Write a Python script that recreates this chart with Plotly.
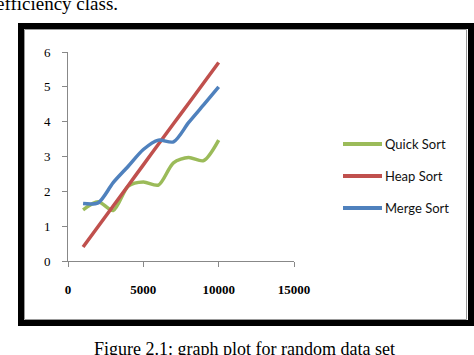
import plotly.graph_objects as go

x_vals = [1000, 2000, 3000, 4000, 5000, 6000, 7000, 8000, 9000, 10000]
quick_sort = [1.47, 1.70, 1.45, 2.15, 2.27, 2.18, 2.82, 2.97, 2.88, 3.47]
heap_sort = [0.40, 0.99, 1.58, 2.17, 2.76, 3.35, 3.94, 4.52, 5.11, 5.70]
merge_sort = [1.65, 1.67, 2.25, 2.72, 3.20, 3.47, 3.42, 3.97, 4.48, 5.00]
series_names = ["Quick Sort", "Heap Sort", "Merge Sort"]
series_colors = ["#9BBB59", "#C0504D", "#4F81BD"]
x_ticks = [0, 5000, 10000, 15000]
y_ticks = [0, 1, 2, 3, 4, 5, 6]

W, H = 474, 355
ML, MR, MT, MB = 68, 180, 52, 94
PW, PH = W - ML - MR, H - MT - MB


def px(xp):
    return (xp - ML) / PW


def py(yp):
    return (H - MB - yp) / PH


fig = go.Figure()
for name, vals, col in zip(series_names, [quick_sort, heap_sort, merge_sort], series_colors):
    fig.add_trace(go.Scatter(
        x=x_vals, y=vals, name=name, mode="lines",
        line=dict(color=col, width=3.5, shape="spline", smoothing=0.8),
        showlegend=False,
    ))

# manual legend (line sample + label)
legend_y = [144, 176, 208]
for name, col, ly in zip(series_names, series_colors, legend_y):
    fig.add_shape(type="line", xref="paper", yref="paper",
                  x0=px(343), x1=px(382), y0=py(ly), y1=py(ly),
                  line=dict(color=col, width=4))
    fig.add_annotation(text=name, xref="paper", yref="paper",
                       x=px(383), y=py(ly), xanchor="left", yanchor="middle",
                       showarrow=False,
                       font=dict(family="Lato, Open Sans, sans-serif", size=13, color="#111"))

fig.update_layout(
    width=W, height=H,
    margin=dict(l=ML, r=MR, t=MT, b=MB, pad=0),
    paper_bgcolor="white", plot_bgcolor="white",
    showlegend=False,
    xaxis=dict(
        range=[0, 15000], tickvals=x_ticks, ticktext=[str(v) for v in x_ticks],
        showgrid=False, zeroline=False, showline=True, linecolor="#888", linewidth=1,
        ticks="outside", ticklen=5, tickcolor="#888",
        ticklabelstandoff=11,
        tickfont=dict(family="Liberation Serif, serif", size=13, color="black", weight="bold"),
    ),
    yaxis=dict(
        range=[0, 6], tickvals=y_ticks,
        showgrid=False, zeroline=False, showline=True, linecolor="#888", linewidth=1,
        ticks="outside", ticklen=5, tickcolor="#888",
        ticklabelstandoff=9,
        tickfont=dict(family="Liberation Serif, serif", size=13, color="black"),
    ),
)

# black outer frame
fig.add_shape(type="rect", xref="paper", yref="paper",
              x0=px(21), x1=px(471), y0=py(323), y1=py(26),
              line=dict(color="black", width=6), fillcolor="rgba(0,0,0,0)", layer="below")
# thin grey inner border
fig.add_shape(type="rect", xref="paper", yref="paper",
              x0=px(24.5), x1=px(466.5), y0=py(319.5), y1=py(29.5),
              line=dict(color="#999", width=1), fillcolor="rgba(0,0,0,0)", layer="below")

fig.add_annotation(text="efficiency class.", xref="paper", yref="paper",
                   x=px(-6), y=py(16), xanchor="left", yanchor="bottom", showarrow=False,
                   font=dict(family="Liberation Serif, serif", size=19, color="black"))
fig.add_annotation(text="Figure 2.1: graph plot for random data set", xref="paper", yref="paper",
                   x=px(244), y=py(337), xanchor="center", yanchor="top", showarrow=False,
                   font=dict(family="Liberation Serif, serif", size=18, color="black"))

fig.write_html("out.html", config={"displayModeBar": False},
               post_script="document.body.style.margin='0';document.body.style.overflow='hidden';")
